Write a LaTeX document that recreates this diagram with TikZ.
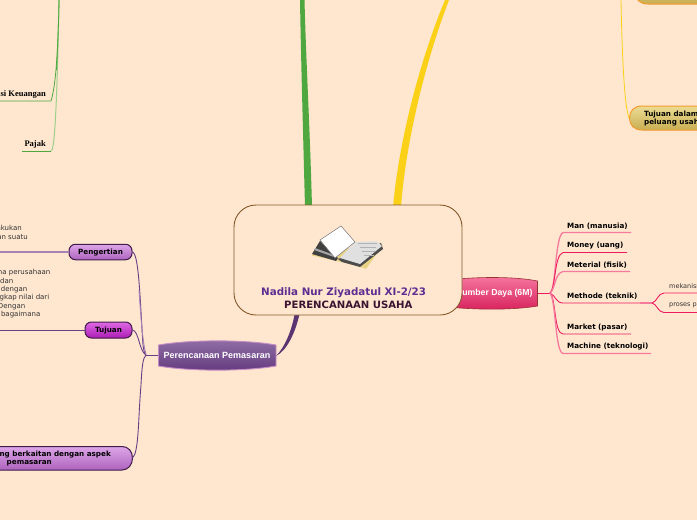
\documentclass[tikz,border=0pt]{standalone}
\usepackage{fontspec}
\setmainfont{DejaVu Sans}
\newfontfamily\arialf{Liberation Sans}
\newfontfamily\timesf{Liberation Serif}
\definecolor{bgc}{HTML}{FEE6CF}
\definecolor{purp}{HTML}{6A3E86}
\definecolor{purpl}{HTML}{A583B5}
\definecolor{crim}{HTML}{EE1A5E}
\definecolor{criml}{HTML}{F57A9C}
\definecolor{grn}{HTML}{4FA83F}
\definecolor{grnl}{HTML}{9CCF8C}
\definecolor{yel}{HTML}{FAD116}
\definecolor{orng}{HTML}{F59A2C}
\definecolor{goldt}{HTML}{EBDC94}
\definecolor{goldb}{HTML}{C9AE52}
\definecolor{pillt}{HTML}{DDA6E8}
\definecolor{pillb}{HTML}{AE63BE}
\definecolor{magt}{HTML}{DE6AE4}
\definecolor{magb}{HTML}{AC1CB4}
\definecolor{pilld}{HTML}{3F1C4C}
\definecolor{titlea}{HTML}{5E2D91}
\definecolor{titleb}{HTML}{3C1432}
\tikzset{
 x=1pt,y=-1pt,
 lab/.style={font=\fontsize{7.2}{8.4}\selectfont\bfseries,text=black,inner sep=0pt,anchor=west},
 plain/.style={font=\fontsize{7}{8.4}\selectfont,text=black!80,inner sep=0pt},
 pill/.style={draw=#1,line width=1pt,rounded corners=6.5pt},
 purpw/.style={draw=purp,line width=0.9pt},
 crimw/.style={draw=crim,line width=0.9pt},
 criml2/.style={draw=criml,line width=1.3pt},
 lens/.style={font=\arialf\fontsize{9}{10}\selectfont\bfseries,text=white,inner sep=0pt},
 pilltext/.style={font=\fontsize{7.2}{9}\selectfont\bfseries,text=black,inner sep=0pt},
}
\begin{document}
\begin{tikzpicture}
\useasboundingbox[fill=bgc] (0,0) rectangle (697,520);
\clip (0,0) rectangle (697,520);

% free ends
\coordinate (gj) at (59,0);
\coordinate (yj) at (621,0);
\coordinate (jL) at (146,355);
\coordinate (jR) at (550,293);
\coordinate (jM) at (652,303);

% trunks
\fill[grn] (305,207) .. controls (303,130) and (301,60) .. (300,0) -- (304.5,0) .. controls (306,60) and (310,130) .. (312,207) -- cycle;
\fill[yel] (393,207) .. controls (399,140) and (420,60) .. (445,0) -- (449,0) .. controls (426,60) and (406,140) .. (401,207) -- cycle;
\fill[purp!85!black] (295,312) .. controls (292,330) and (285,347) .. (276,356) .. controls (286,351) and (295,335) .. (300,312) -- cycle;

% green branches
\coordinate (kE) at (0,101);
\coordinate (kJ) at (51,101);
\coordinate (pS) at (22,151);
\coordinate (pJ) at (51,151);
\draw[draw=grn,line width=0.8pt] (gj) .. controls (58,50) and (56,85) .. (kJ) -- (kE);
\draw[draw=grnl,line width=1pt] (gj) .. controls (58,60) and (56,130) .. (53,146) .. controls (52.5,149) and (52,151) .. (pJ);
\draw[draw=grn,line width=0.8pt] (gj) .. controls (58.5,30) and (57.5,50) .. (56.5,70);
\draw[draw=grn,line width=0.8pt] (pJ) -- (pS);
\node[font=\timesf\fontsize{8.5}{10}\selectfont\bfseries,text=black,inner sep=0pt,anchor=east] (tk) at (46,94.5) {asi Keuangan};
\node[font=\timesf\fontsize{8.5}{10}\selectfont\bfseries,text=black,inner sep=0pt,anchor=east] (tp) at (46,144.5) {Pajak};

% top-right nodes
\coordinate (tn) at (629,118);
\draw[draw=yel,line width=0.8pt] (yj) .. controls (622,50) and (624,105) .. (tn);
\path[draw=orng,line width=1pt,top color=goldt,bottom color=goldb] (710,-30) -- (634,-30) -- (634,-8) .. controls (636,0) and (640,4) .. (648,4) -- (710,4) -- cycle;
\path[draw=orng,line width=1pt,top color=goldt,bottom color=goldb] (710,106) -- (642,106) .. controls (634,106) and (629.5,111) .. (629.5,118) .. controls (629.5,125) and (634,130) .. (642,130) -- (710,130) -- cycle;
\node[font=\fontsize{7.2}{8.6}\selectfont\bfseries,text=black,inner sep=0pt,align=left,anchor=west] (tj) at (644,118.5) {Tujuan dalam\\peluang usaha};

% Sumber Daya lens
\path[draw=red!50!black!80,line width=0.6pt,top color=crim!60!white,bottom color=crim!90!black!95] (448,280) .. controls (478,276.5) and (515,276.5) .. (537.5,281) -- (537.5,306) .. controls (515,310) and (478,310) .. (448,307) -- cycle;
\node[lens,font=\arialf\fontsize{8.7}{10}\selectfont\bfseries,anchor=center] (sd) at (494.5,293.5) {Sumber Daya (6M)};

% centre
\node[draw=brown!70!black,line width=0.9pt,fill=bgc,rounded corners=22pt,minimum width=228pt,minimum height=110pt,inner sep=0pt] (c) at (348,260) {};
\node[font=\fontsize{10.3}{12}\selectfont\bfseries,inner sep=0pt,anchor=west,text=titlea] (t1) at (261,292.5) {Nadila Nur Ziyadatul XI-2/23};
\node[font=\fontsize{10.1}{12}\selectfont\bfseries,inner sep=0pt,anchor=west,text=titleb] (t2) at (284,304.5) {PERENCANAAN USAHA};

% book
\fill[yellow!40!brown!60!white] (312,255.5) -- (321,240) -- (355,250) -- (383,245) -- (366,269) -- (355,265) -- cycle;
\fill[black!75] (320,241) -- (312,254) -- (336,261) -- (338,258) -- cycle;
\fill[black!35] (315,248) -- (334,255) -- (334,257) -- (314,250) -- cycle;
\fill[black!70] (338,259) -- (342,262) -- (360,267) -- (383,249) -- (381,243) -- cycle;
\fill[black!12] (355,242) -- (377,241) -- (382,246) -- (360,264) -- (340,258) -- cycle;
\foreach \i in {0,1,2,3}{\draw[black!30,line width=0.3pt] (358+2*\i,243+4*\i) -- (377-1*\i,243+4*\i);}
\filldraw[fill=white,draw=black!55,line width=0.5pt] (320,240) -- (341,226) -- (355,242) -- (335,258) -- cycle;

% left connectors & nodes
\node[pill=pilld,top color=pillt,bottom color=pillb,minimum width=63pt,minimum height=15.5pt,inner sep=0pt,pilltext,text height=5.5pt,text depth=1.5pt] (n1) at (100.5,252) {Pengertian};
\node[pill=pilld,top color=magt,bottom color=magb,minimum width=47pt,minimum height=16pt,inner sep=0pt,pilltext,text height=5.5pt,text depth=1.5pt] (n2) at (108.5,330) {Tujuan};
\coordinate (n1L) at (0,252);
\coordinate (n2L) at (0,330);
\draw[draw=purpl,line width=1.3pt] (n1L) -- (n1.west);
\draw[draw=purp,line width=0.9pt] (n2L) -- (n2.west);
\path[draw=pilld,line width=1pt,top color=pillt,bottom color=pillb] (-20,446.5) -- (122,446.5) .. controls (128,446.5) and (132.5,451) .. (132.5,458) .. controls (132.5,465) and (128,470) .. (122,470) -- (-20,470) -- cycle;
\coordinate (n3R) at (132.5,458);
\node[pilltext,anchor=east] (n3a) at (111,454.5) {ang berkaitan dengan aspek};
\node[pilltext,anchor=east] (n3b) at (52,463.5) {pemasaran};

\draw[purpw] (n1.east) .. controls (139,254) and (140,300) .. (143,345) .. controls (144,352) and (145,355) .. (jL);
\draw[draw=purpl,line width=0.9pt] (139,290) .. controls (141,320) and (143,345) .. (146,354);
\draw[purpw] (n2.east) .. controls (139,331) and (139,351) .. (jL);
\draw[purpw] (n3R) .. controls (139,452) and (138,420) .. (141,385) .. controls (142,365) and (143,358) .. (jL);

% Perencanaan lens
\path[draw=violet!45!white,line width=0.9pt,top color=purp!75!white,bottom color=purp!95!black] (158.5,345) .. controls (190,339.5) and (245,339.5) .. (276,345) -- (276,366) .. controls (245,371.5) and (190,371.5) .. (158.5,366) -- cycle;
\node[lens,minimum width=117pt,minimum height=26pt] (pp) at (217,355) {Perencanaan Pemasaran};
\draw[purpw] (pp.west) -- (jL);

% left text
\node[plain,anchor=east] (l1) at (22,228) {akukan};
\node[plain,anchor=east] (l2) at (28,237) {an suatu};
\node[plain,anchor=east] (l3) at (50.5,272.5) {na perusahaan};
\node[plain,anchor=east] (l4) at (13.5,281) {dan};
\node[plain,anchor=east] (l5) at (27.5,289.5) {dengan};
\node[plain,anchor=east] (l6) at (49.5,297.5) {gkap nilai dari};
\node[plain,anchor=east] (l7) at (25.5,306.5) {Dengan};
\node[plain,anchor=east] (l8) at (40.5,314.5) {bagaimana};

% right connectors
\coordinate (aS) at (563,232.5); \coordinate (aE) at (631,232.5);
\coordinate (bS) at (563,252.5); \coordinate (bE) at (627,252.5);
\coordinate (dS) at (563,271.5); \coordinate (dE) at (630,271.5);
\coordinate (eS) at (563,303);
\coordinate (fS) at (563,334); \coordinate (fE) at (631,334);
\coordinate (gS) at (563,353.5); \coordinate (gE) at (651,353.5);
\coordinate (hS) at (664,293); \coordinate (hE) at (697,293);
\coordinate (iS) at (664,312.5); \coordinate (iE) at (697,312.5);
\coordinate (sdE) at (538,293);
\draw[crimw] (sdE) -- (jR);
\draw[criml2] (jR) .. controls (556,290) and (555,236) .. (aS) -- (aE);
\draw[crimw] (jR) .. controls (556,288) and (554,255) .. (bS) -- (bE);
\draw[criml2] (jR) .. controls (556,288) and (554,274) .. (dS) -- (dE);
\draw[crimw] (jR) .. controls (556,296) and (556,303) .. (eS) -- (jM);
\draw[crimw] (jR) .. controls (556,298) and (554,334) .. (fS) -- (fE);
\draw[criml2] (jR) .. controls (556,300) and (555,352) .. (gS) -- (gE);
\draw[draw=criml,line width=1.5pt] (640,303) -- (jM);
\draw[crimw] (jM) .. controls (657,302) and (658,293) .. (hS) -- (hE);
\draw[crimw] (jM) .. controls (657,304) and (658,312.5) .. (iS) -- (iE);
\node[lab] (ta) at (567,226) {Man (manusia)};
\node[lab] (tb) at (567,246) {Money (uang)};
\node[lab] (td) at (567,265) {Meterial (fisik)};
\node[lab] (te) at (567,296) {Methode (teknik)};
\node[lab] (tf) at (567,328) {Market (pasar)};
\node[lab] (tg) at (567,347) {Machine (teknologi)};
\node[plain,anchor=west,font=\fontsize{6.5}{8}\selectfont] (th) at (669,286.5) {mekanisme};
\node[plain,anchor=west,font=\fontsize{6.5}{8}\selectfont] (ti) at (669,305.5) {proses p};
\end{tikzpicture}
\end{document}
